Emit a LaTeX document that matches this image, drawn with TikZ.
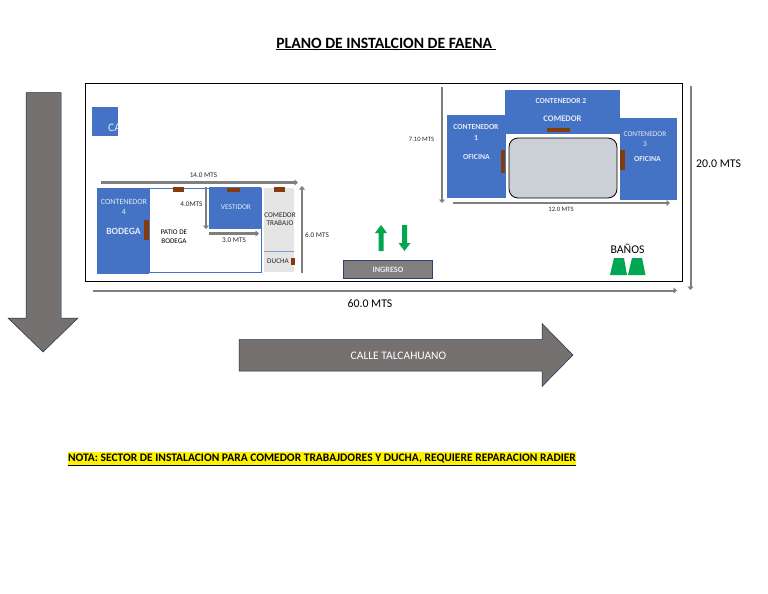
\documentclass[tikz,border=0pt]{standalone}
\usepackage{fontspec}
\setmainfont{Carlito}
\usetikzlibrary{arrows.meta}
\definecolor{cblue}{HTML}{4472C4}
\definecolor{cgrey}{HTML}{767171}
\definecolor{cdoor}{HTML}{843C0C}
\definecolor{cgreen}{HTML}{00A650}
\definecolor{cpool}{HTML}{CBCFD6}
\definecolor{cbar}{HTML}{7F7F7F}
\definecolor{ctxt}{HTML}{E4EBF7}
\tikzset{
 container/.style={fill=cblue,draw=none},
 door/.style={fill=cdoor,draw=none},
 bigarrow/.style={fill=cgrey,draw=cblue!40!black,line width=0.5pt},
 dim/.style={draw=cbar,line width=2.4pt,-{Triangle[length=3.5pt,width=6pt]}},
 lab/.style={font=\fontsize{7.2}{8.2}\selectfont,align=center,inner sep=0pt,text=black!85},
 wlab/.style={font=\bfseries\fontsize{7.7}{10.5}\selectfont,align=center,inner sep=0pt,text=ctxt},
 big/.style={font=\fontsize{11.8}{13}\selectfont,inner sep=0pt},
 trap/.style={fill=cgreen,draw=none},
 greenarrow/.style={fill=cgreen,draw=none}
}
\begin{document}
\begin{tikzpicture}[x=1pt,y=-1pt]
\useasboundingbox (0,0) rectangle (768,594);
\fill[white] (0,0) rectangle (768,594);
\node[inner sep=0pt,font=\bfseries\fontsize{15.7}{17}\selectfont] (title) at (386,44) {\underline{PLANO DE INSTALCION DE FAENA\ }};
% site
\draw[line width=0.9pt,black] (85.5,83.5) rectangle (682.5,281);
% left group
\draw[cblue,line width=0.6pt] (149,188) rectangle (261,272);
\fill[container] (92,107) rectangle (118,136);
\begin{scope}
\clip (92,107) rectangle (118,136);
\node[font=\fontsize{11.5}{12}\selectfont,text=ctxt,inner sep=0pt,anchor=west] (ca) at (108,128) {CA};
\end{scope}
\node[container,minimum width=52pt,minimum height=86pt,inner sep=0pt] (c4) at (123,231) {};
\node[wlab,font=\fontsize{8}{10.5}\selectfont] at (124,207) {CONTENEDOR\\4};
\node[wlab,font=\bfseries\fontsize{9.6}{10}\selectfont] at (123.5,231) {BODEGA};
\fill[door] (144,220) rectangle (149,240);
\node[container,minimum width=52pt,minimum height=42pt,inner sep=0pt] (vest) at (235,208) {};
\node[wlab,font=\fontsize{7.4}{8}\selectfont] at (236,207) {VESTIDOR};
\fill[door] (173,187) rectangle (184,192);
\fill[door] (227,188) rectangle (240,192);
\node[lab,font=\fontsize{7.2}{9.5}\selectfont,text=black] at (174,236.5) {PATIO DE\\BODEGA};
\fill[black!10] (264,188) rectangle (294,272);
\draw[cblue!70,line width=0.6pt] (264,251) -- (294,251);
\fill[door] (274,187) rectangle (285,192);
\fill[door] (291,258) rectangle (295,265);
\node[lab] at (280,219) {COMEDOR\\TRABAJO};
\node[lab] at (278,261.5) {DUCHA};
% left dims
\coordinate (a1) at (101,182.5); \coordinate (a2) at (298,182.5);
\draw[dim] (a1) -- (a2);
\node[lab] at (203.5,175) {14.0 MTS};
\coordinate (b1) at (206,187); \coordinate (b2) at (206,229);
\draw[dim] (b1) -- (b2);
\node[lab] at (191.5,204) {4.0MTS};
\coordinate (d1) at (209,233.5); \coordinate (d2) at (259,233.5);
\draw[dim] (d1) -- (d2);
\node[lab] at (234,240) {3.0 MTS};
\coordinate (e1) at (302,273); \coordinate (e2) at (302,186);
\draw[dim] (e1) -- (e2);
\node[lab] at (317,235.5) {6.0 MTS};
% right group
\node[container,minimum width=59pt,minimum height=83pt,inner sep=0pt] (c1) at (476.5,156.5) {};
\node[container,minimum width=115pt,minimum height=44pt,inner sep=0pt] (c2) at (562.5,112) {};
\node[container,minimum width=57pt,minimum height=82pt,inner sep=0pt] (c3) at (648.5,159) {};
\node[wlab] at (476,132.5) {CONTENEDOR\\1};
\node[wlab] at (476.5,157) {OFICINA};
\node[wlab] at (561,101) {CONTENEDOR 2};
\node[wlab,font=\bfseries\fontsize{8.6}{10}\selectfont] at (562.5,118.5) {COMEDOR};
\node[wlab,font=\fontsize{7.4}{10}\selectfont] at (645,139) {CONTENEDOR\\3};
\node[wlab] at (647.5,159) {OFICINA};
\fill[door] (547,128) rectangle (570,132);
\fill[door] (501,150) rectangle (505,173);
\fill[door] (620,150) rectangle (625,170);
\node[draw=black,line width=0.8pt,fill=cpool,rounded corners=9pt,minimum width=108pt,minimum height=60pt,inner sep=0pt] (patio) at (563,168) {};
\coordinate (f1) at (442,87); \coordinate (f2) at (442,203);
\draw[dim] (f1) -- (f2);
\node[lab,font=\fontsize{6.6}{8}\selectfont] at (421.5,139.5) {7.10 MTS};
\coordinate (g1) at (453,203); \coordinate (g2) at (670,203);
\draw[dim,line width=2pt] (g1) -- (g2);
\node[lab,font=\fontsize{6.6}{8}\selectfont] at (561,209) {12.0 MTS};
% ingreso
\node[fill=cgrey!90,draw=cblue!60!black,line width=0.6pt,minimum width=89pt,minimum height=18pt,inner sep=0pt,font=\bfseries\fontsize{8.2}{9}\selectfont,text=ctxt] (ing) at (388,269.5) {INGRESO};
\fill[greenarrow] (378.5,251) -- (378.5,233) -- (375,233) -- (381,225) -- (387,233) -- (383.5,233) -- (383.5,251) -- cycle;
\fill[greenarrow] (402,225) -- (402,243) -- (398.5,243) -- (404.5,251) -- (410.5,243) -- (407,243) -- (407,225) -- cycle;
% banos
\node[big] at (627.5,249) {BAÑOS};
\fill[trap] (610,275) -- (614,258) -- (624,258) -- (627,275) -- cycle;
\fill[trap] (628,275) -- (632,258) -- (642,258) -- (645.5,275) -- cycle;
% outer dims
\coordinate (h1) at (93,290.5); \coordinate (h2) at (677,290.5);
\draw[dim,line width=2pt] (h1) -- (h2);
\node[big] at (370,304) {60.0 MTS};
\coordinate (i1) at (690.5,86); \coordinate (i2) at (690.5,290);
\draw[dim,line width=2pt] (i1) -- (i2);
\node[big,anchor=west] at (696,163.5) {20.0 MTS};
% big arrows
\draw[bigarrow] (26,92.5) -- (61,92.5) -- (61,318) -- (78,318) -- (43,352) -- (8,318) -- (26,318) -- cycle;
\draw[bigarrow] (239,339.5) -- (542,339.5) -- (542,323.5) -- (573,355) -- (542,386.5) -- (542,371) -- (239,371) -- cycle;
\node[font=\fontsize{11.5}{13}\selectfont,text=white,inner sep=0pt] (calle) at (398.5,355.5) {CALLE TALCAHUANO};
% nota
\fill[yellow] (68,452) rectangle (576,466);
\node[font=\bfseries\fontsize{11.5}{13}\selectfont,inner sep=0pt] (nota) at (322,460) {\underline{NOTA: SECTOR DE INSTALACION PARA COMEDOR TRABAJDORES Y DUCHA, REQUIERE REPARACION RADIER}};
\end{tikzpicture}
\end{document}
